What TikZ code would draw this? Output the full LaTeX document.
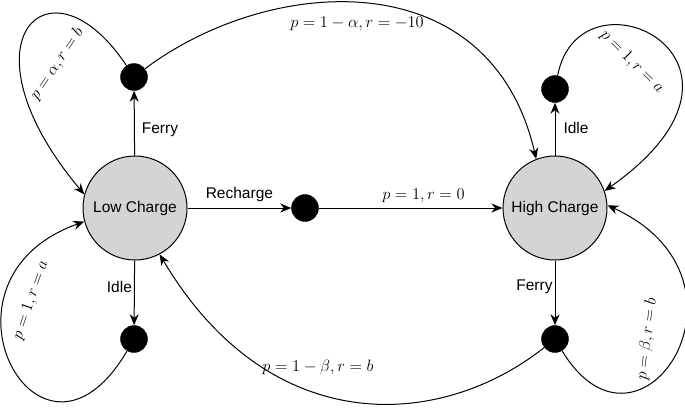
\RequirePackage{fix-cm}
\documentclass[tikz,border=0pt]{standalone}
\usepackage{fontspec}
\setsansfont{Liberation Sans}
\usetikzlibrary{arrows.meta}
\definecolor{stategray}{RGB}{212,212,212}
\begin{document}
\begin{tikzpicture}[x=1pt,y=-1pt,
  state/.style={circle,draw,line width=1pt,fill=stategray,minimum size=104pt,inner sep=0pt,font=\sffamily\fontsize{15.5}{18}\selectfont},
  dot/.style={circle,fill=black,draw=black,minimum size=27pt,inner sep=0pt},
  arr/.style={line width=1pt,-{Stealth[length=11pt,width=9pt,inset=3.5pt]}},
  lab/.style={font=\sffamily\fontsize{15.5}{18}\selectfont,inner sep=1pt},
  mlab/.style={font=\fontsize{16.4}{19}\selectfont,inner sep=1pt}]
\useasboundingbox (0,0) rectangle (685,410);
\node[state] (low) at (135,208) {Low Charge};
\node[state] (high) at (555,208) {High Charge};
\node[dot] (lt) at (134,77) {};
\node[dot] (lb) at (134,339) {};
\node[dot] (mid) at (305,208) {};
\node[dot] (ht) at (555,89) {};
\node[dot] (hb) at (555,339) {};
% straight edges
\draw[arr] (low) -- node[lab,right=6pt,pos=0.4]{Ferry} (lt);
\draw[arr] (low) -- node[lab,left=1pt,pos=0.41]{Idle} (lb);
\draw[arr] (low) -- node[lab,above=5pt]{Recharge} (mid);
\draw[arr] (mid) -- node[mlab,above=4pt,pos=0.57]{$p=1,r=0$} (high);
\draw[arr] (high) -- node[lab,right=7pt,pos=0.52]{Idle} (ht);
\draw[arr] (high) -- node[lab,left=1pt,pos=0.41]{Ferry} (hb);
% curves
\draw[arr] (lt) .. controls (50,-50) and (-45,40) .. (low.165);
\draw[arr] (lt) .. controls (270,-25) and (490,-40) .. (high.111);
\draw[arr] (lb) .. controls (40,500) and (-80,280) .. (low.195);
\draw[arr] (ht) .. controls (580,-40) and (790,60) .. (high.19);
\draw[arr] (hb) .. controls (640,480) and (770,280) .. (high.3);
\draw[arr] (hb) .. controls (440,430) and (270,440) .. (low.-62);
% curve labels
\node[mlab,rotate=56] (l1) at (57,64) {$p=\alpha,r=b$};
\node[mlab] (l2) at (357,24) {$p=1-\alpha,r=-10$};
\node[mlab,rotate=71] (l3) at (31,300) {$p=1,r=a$};
\node[mlab,rotate=-45] (l4) at (632,62) {$p=1,r=a$};
\node[mlab,rotate=83] (l5) at (647,339) {$p=\beta,r=b$};
\node[mlab] (l6) at (318,367) {$p=1-\beta,r=b$};
\end{tikzpicture}
\end{document}
